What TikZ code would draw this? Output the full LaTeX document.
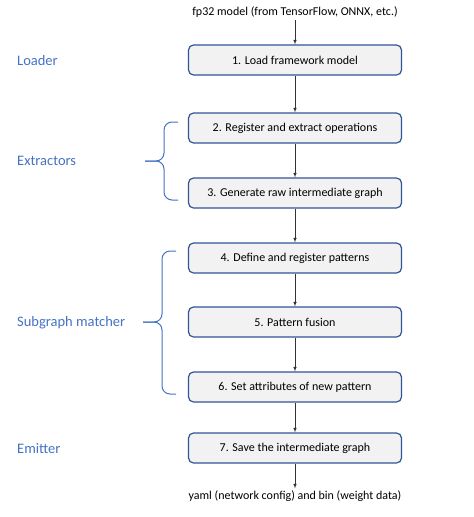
\documentclass[tikz,border=0pt]{standalone}
\usepackage{fontspec}
\setmainfont{Carlito}
\definecolor{stageblue}{HTML}{4472C4}
\definecolor{boxedge}{HTML}{2F5597}
\definecolor{boxfill}{HTML}{F2F2F2}
\tikzset{
  stepbox/.style={draw=boxedge,line width=1.2pt,fill=boxfill,rounded corners=5pt,
    minimum width=213pt,minimum height=30pt,inner sep=0pt,font=\fontsize{12}{14}\selectfont},
  iotext/.style={font=\fontsize{12}{14}\selectfont,inner sep=2pt},
  stagelabel/.style={anchor=west,text=stageblue,font=\fontsize{14.5}{17}\selectfont,inner sep=0pt},
  flow/.style={draw=black!80,-latex,line width=0.6pt},
  curly/.style={draw=stageblue,line width=1pt,rounded corners=8pt}
}
\begin{document}
\begin{tikzpicture}[x=1pt,y=-1pt]
        \useasboundingbox (0,0) rectangle (474,517);
        %% input and output
        \node[iotext] (input) at (295,12) {fp32 model (from TensorFlow, ONNX, etc.)};
        \node[iotext] (output) at (295,496) {yaml (network config) and bin (weight data)};
        %% steps
        \node[stepbox] (load) at (295,60) {1. Load framework model};
        \node[stepbox] (register) at (295,128) {2. Register and extract operations};
        \node[stepbox] (generate) at (295,193) {3. Generate raw intermediate graph};
        \node[stepbox] (define) at (295,258) {4. Define and register patterns};
        \node[stepbox] (fusion) at (295,322) {5. Pattern fusion};
        \node[stepbox] (attrs) at (295,387) {6. Set attributes of new pattern};
        \node[stepbox] (save) at (295,448) {7. Save the intermediate graph};
        %% arrows
        \draw[flow] (input) -- (load);
        \draw[flow] (load) -- (register);
        \draw[flow] (register) -- (generate);
        \draw[flow] (generate) -- (define);
        \draw[flow] (define) -- (fusion);
        \draw[flow] (fusion) -- (attrs);
        \draw[flow] (attrs) -- (save);
        \draw[flow] (save) -- (output);
        %% stage labels
        \node[stagelabel] (loader) at (17,61) {Loader};
        \node[stagelabel] (extractors) at (17,161) {Extractors};
        \node[stagelabel] (matcher) at (17,323) {Subgraph matcher};
        \node[stagelabel] (emitter) at (17,449) {Emitter};
        %% braces
        \draw[curly] (178,122) -- (164,122) -- (164,161) -- (145,161);
        \draw[curly] (178,200) -- (164,200) -- (164,161) -- (145,161);
        \draw[curly] (176,251) -- (162,251) -- (162,322) -- (143,322);
        \draw[curly] (176,394) -- (162,394) -- (162,322) -- (143,322);
    \end{tikzpicture}
\end{document}
